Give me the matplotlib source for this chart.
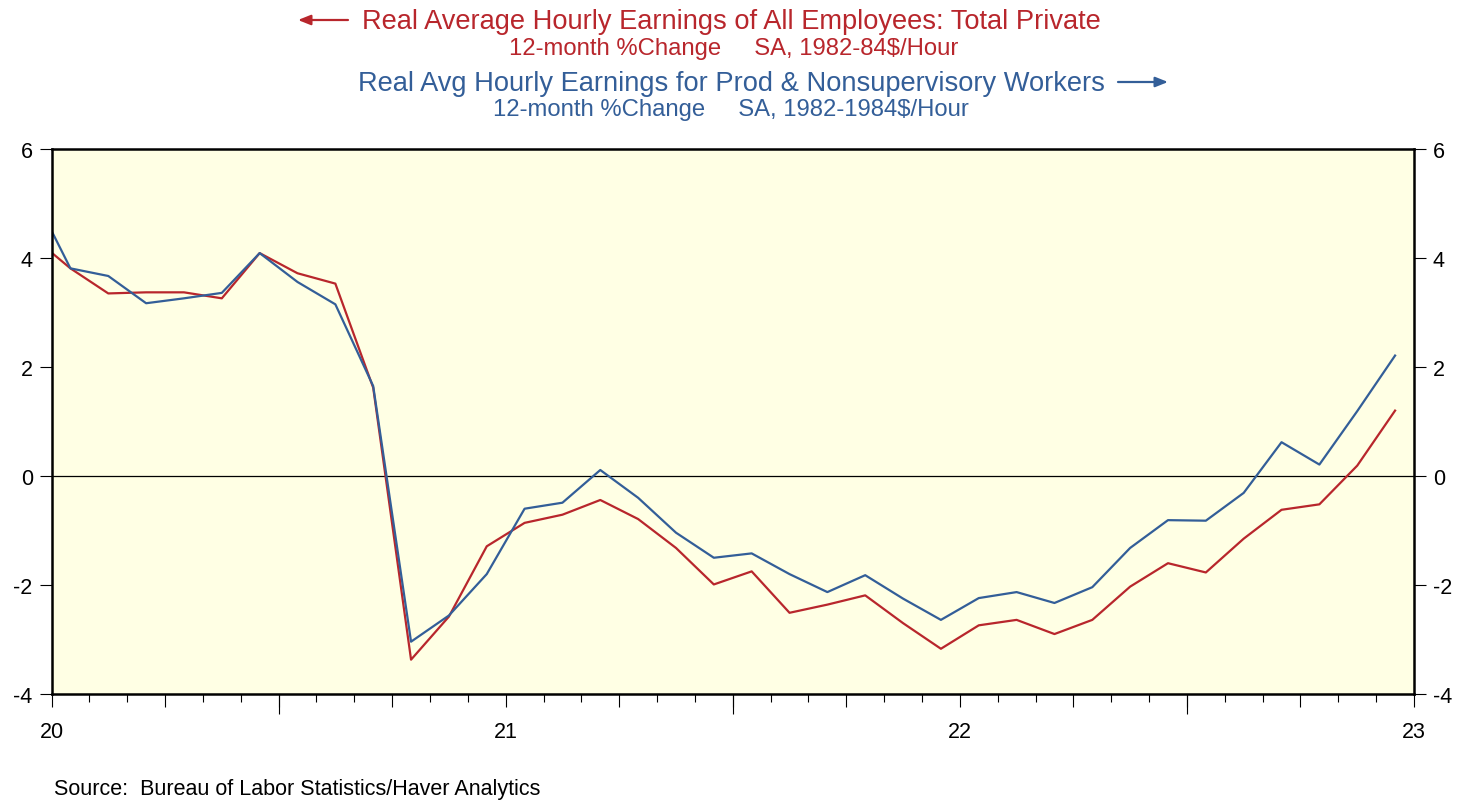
import matplotlib
matplotlib.use("Agg")
import matplotlib.pyplot as plt
import pandas as pd
import numpy as np
from matplotlib.ticker import FixedLocator, NullFormatter

plt.rcParams['font.family'] = ['Liberation Sans', 'DejaVu Sans']

# ---- data (monthly, Dec 2019 .. Dec 2022) ----
months = pd.date_range('2019-12-01', '2022-12-01', freq='MS')

all_employees = [4.39, 3.81, 3.35, 3.37, 3.37, 3.26, 4.09, 3.72, 3.53, 1.62,
                 -3.37, -2.58, -1.29, -0.86, -0.71, -0.44, -0.79, -1.32, -1.99,
                 -1.75, -2.51, -2.36, -2.19, -2.70, -3.17, -2.74, -2.64, -2.90,
                 -2.64, -2.03, -1.60, -1.77, -1.15, -0.62, -0.52, 0.19, 1.20]

prod_nonsup = [5.19, 3.81, 3.67, 3.17, 3.26, 3.36, 4.09, 3.56, 3.15, 1.65,
               -3.04, -2.56, -1.80, -0.60, -0.49, 0.11, -0.40, -1.04, -1.50,
               -1.42, -1.80, -2.13, -1.82, -2.25, -2.64, -2.24, -2.13, -2.33,
               -2.04, -1.32, -0.81, -0.82, -0.31, 0.62, 0.21, 1.19, 2.21]

year_labels = ['20', '21', '22', '23']
y_ticks = [-4, -2, 0, 2, 4, 6]

red = '#B8262C'
blue = '#335E98'
bg = '#FFFFE4'

# x position: mid-month in fractional years
xpos = np.array([d.year + (d.month - 0.5) / 12.0 for d in months])

W, H = 1469, 804
fig = plt.figure(figsize=(W / 100, H / 100), dpi=100)
ax = fig.add_axes([51.5 / W, 1 - 695 / H, (1414 - 51.5) / W, (695 - 150) / H])
ax.set_facecolor(bg)

ax.plot(xpos, all_employees, color=red, lw=1.6, zorder=3)
ax.plot(xpos, prod_nonsup, color=blue, lw=1.6, zorder=4)
ax.axhline(0, color='black', lw=0.9, zorder=2)

ax.set_xlim(2020, 2023)
ax.set_ylim(-4, 6)

for s in ax.spines.values():
    s.set_linewidth(1.8)
    s.set_zorder(5)

# y axis both sides
ax.set_yticks(y_ticks)
ax.set_yticklabels([str(v) for v in y_ticks])
ax.tick_params(axis='y', which='major', direction='out', length=8.5, width=0.8,
               left=True, right=True, labelleft=True, labelright=True,
               labelsize=15.5, pad=5)

# x axis: quarterly major ticks, monthly minor ticks
quarters = [2020 + q / 4 for q in range(13)]
ax.xaxis.set_major_locator(FixedLocator(quarters))
qlabels = []
for q in range(13):
    qlabels.append(year_labels[q // 4] if q % 4 == 0 else '')
ax.set_xticklabels(qlabels)
ax.xaxis.set_minor_locator(FixedLocator([2020 + m / 12 for m in range(37)]))
ax.tick_params(axis='x', which='major', direction='out', length=9.5, width=0.8,
               labelsize=15.5, pad=10, top=False)
ax.tick_params(axis='x', which='minor', direction='out', length=5.8, width=0.8,
               top=False)

# longer mid-year ticks
sec = ax.secondary_xaxis('bottom')
sec.set_xticks([2020.5, 2021.5, 2022.5])
sec.xaxis.set_major_formatter(NullFormatter())
sec.tick_params(axis='x', direction='out', length=14.5, width=0.8)
sec.spines['bottom'].set_visible(False)

# ---- titles ----
def fy(ytop):
    return 1 - ytop / H

fig.text(731 / W, fy(29), 'Real Average Hourly Earnings of All Employees: Total Private',
         color=red, fontsize=19.6, ha='center', va='baseline')
fig.text(734 / W, fy(54.5), '12-month %Change     SA, 1982-84$/Hour',
         color=red, fontsize=17.2, ha='center', va='baseline')
fig.text(731 / W, fy(91), 'Real Avg Hourly Earnings for Prod & Nonsupervisory Workers',
         color=blue, fontsize=19.6, ha='center', va='baseline')
fig.text(731 / W, fy(116), '12-month %Change     SA, 1982-1984$/Hour',
         color=blue, fontsize=17.2, ha='center', va='baseline')

ax.annotate('', xy=(298 / W, fy(21)), xytext=(348 / W, fy(21)),
            xycoords='figure fraction', textcoords='figure fraction',
            arrowprops=dict(arrowstyle='-|>,head_length=0.75,head_width=0.3',
                            color=red, lw=1.6, shrinkA=0, shrinkB=0))
ax.annotate('', xy=(1168 / W, fy(83)), xytext=(1118 / W, fy(83)),
            xycoords='figure fraction', textcoords='figure fraction',
            arrowprops=dict(arrowstyle='-|>,head_length=0.75,head_width=0.3',
                            color=blue, lw=1.6, shrinkA=0, shrinkB=0))

fig.text(54 / W, fy(795), 'Source:  Bureau of Labor Statistics/Haver Analytics',
         color='black', fontsize=15.5, ha='left', va='baseline')

fig.savefig('out.png', dpi=100, facecolor='white')
